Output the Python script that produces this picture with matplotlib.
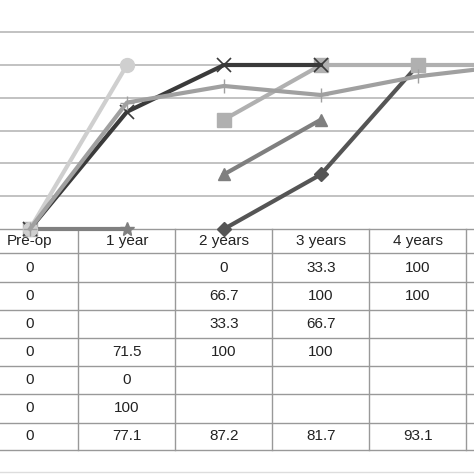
import numpy as np
import matplotlib
matplotlib.use("Agg")
import matplotlib.pyplot as plt

plt.rcParams["font.family"] = ["Liberation Sans", "DejaVu Sans"]

nan = np.nan
# time points (last one is cut off in the reference, only its line shows)
labels = ["Pre-op", "1 year", "2 years", "3 years", "4 years", "5 years"]
s_diamond = [0, nan, 0, 33.3, 100, nan]
s_square = [0, nan, 66.7, 100, 100, 100]
s_triangle = [0, nan, 33.3, 66.7, nan, nan]
s_cross = [0, 71.5, 100, 100, nan, nan]
s_star = [0, 0, nan, nan, nan, nan]
s_circle = [0, 100, nan, nan, nan, nan]
s_mean = [0, 77.1, 87.2, 81.7, 93.1, 100]
rows = [s_diamond, s_square, s_triangle, s_cross, s_star, s_circle, s_mean]

styles = [
    dict(color="#555555", marker="D", ms=7),
    dict(color="#b0b0b0", marker="s", ms=10),
    dict(color="#7f7f7f", marker="^", ms=9),
    dict(color="#3a3a3a", marker="x", ms=10, mew=1.2),
    dict(color="#808080", marker="*", ms=10),
    dict(color="#cfcfcf", marker="o", ms=10),
    dict(color="#a0a0a0", marker="+", ms=10),
]

W = 474
step = 97.0
x0 = 30.0
y0 = 229.0
ppu = 164 / 100.0

fig = plt.figure(figsize=(4.74, 4.74), dpi=100)

# chart area
ax = fig.add_axes([0, 1 - y0 / W, 1, y0 / W])
ax.set_xlim(-x0 / step, (W - x0) / step)
ax.set_ylim(0, y0 / ppu)
for g in np.arange(20, 140, 20):
    ax.axhline(g, color="#b8b8b8", lw=1.2, zorder=0)
x = np.arange(len(labels))
for vals, st in zip(rows, styles):
    ax.plot(x, vals, lw=3, clip_on=False, zorder=3, **st)
ax.axis("off")

# data table under the chart
at = fig.add_axes([0, 0, 1, 1], zorder=-1)
at.set_xlim(0, W)
at.set_ylim(W, 0)
at.axis("off")
hlines = [229, 253, 282, 310, 338, 366, 394, 423, 450]
for h in hlines:
    at.plot([0, W], [h, h], color="#999999", lw=1)
at.plot([0, W], [472, 472], color="#dddddd", lw=1)
for i in range(len(labels)):
    xv = x0 + step * (i + 0.5)
    at.plot([xv, xv], [229, 450], color="#999999", lw=1)
for i, lab in enumerate(labels[:5]):
    xc = x0 + step * i
    at.text(xc, (hlines[0] + hlines[1]) / 2, lab, ha="center", va="center", fontsize=11, color="#222222")
    for r, vals in enumerate(rows):
        v = vals[i]
        if np.isnan(v):
            continue
        txt = f"{v:g}"
        at.text(xc, (hlines[r + 1] + hlines[r + 2]) / 2, txt, ha="center", va="center",
                fontsize=11, color="#222222")

fig.savefig("out.png", dpi=100)
